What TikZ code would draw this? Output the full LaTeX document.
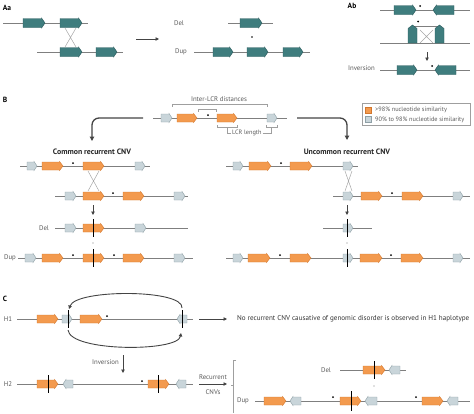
\documentclass[tikz,border=0pt]{standalone}
\usepackage{fontspec}
\setmainfont{PT Sans}
\usetikzlibrary{arrows.meta}
\definecolor{tealf}{HTML}{3F7D7E}
\definecolor{teald}{HTML}{2B5A5C}
\definecolor{orf}{HTML}{F39A4E}
\definecolor{ord}{HTML}{D2772E}
\definecolor{gyf}{HTML}{C9D5DA}
\definecolor{gyd}{HTML}{8FA0A6}
\definecolor{dnac}{HTML}{7F7F7F}
\definecolor{txt}{HTML}{5A5A5A}
\definecolor{arrc}{HTML}{444444}
\def\bh{4}\def\bt{3.5}
\newcommand\RB[4]{\path[#1] (#2,{#4-\bh}) -- ({#3-\bt},{#4-\bh}) -- ({#3-\bt},{#4-\bh-0.6}) -- (#3,#4) -- ({#3-\bt},{#4+\bh+0.6}) -- ({#3-\bt},{#4+\bh}) -- (#2,{#4+\bh}) -- cycle;}
\newcommand\LB[4]{\path[#1] (#3,{#4-\bh}) -- ({#2+\bt},{#4-\bh}) -- ({#2+\bt},{#4-\bh-0.6}) -- (#2,#4) -- ({#2+\bt},{#4+\bh+0.6}) -- ({#2+\bt},{#4+\bh}) -- (#3,{#4+\bh}) -- cycle;}
\newcommand\UB[5]{\path[#1] (#2,#4) -- (#2,{#5+\bt}) -- ({(#2+#3)/2},#5) -- (#3,{#5+\bt}) -- (#3,#4) -- cycle;}
\tikzset{
  tealb/.style={fill=tealf,draw=teald,line width=.4pt},
  orb/.style={fill=orf,draw=ord,line width=.4pt},
  gyb/.style={fill=gyf,draw=gyd,line width=.4pt},
  dna/.style={draw=dnac,line width=0.9pt},
  xl/.style={draw=gray!70,line width=.5pt},
  cutl/.style={draw=black,line width=.7pt},
  brk/.style={draw=gray!75,line width=.4pt},
  arr/.style={draw=arrc,line width=.9pt,-{Triangle[length=3.5pt,width=3.5pt]}},
  bigarr/.style={draw=arrc,line width=1.3pt,-{Triangle[length=4.5pt,width=4.5pt]}},
  lbl/.style={font=\fontsize{7.5}{8}\selectfont\bfseries,text=black,inner sep=0},
  sm/.style={font=\fontsize{6.8}{7.5}\selectfont,text=txt,inner sep=0},
  leg/.style={font=\fontsize{6.3}{7}\selectfont,text=txt,inner sep=0},
  hd/.style={font=\fontsize{7.8}{8.5}\selectfont\bfseries,text=black!85,inner sep=0},
  dotc/.style={fill=black},
}
\begin{document}
\begin{tikzpicture}[x=1pt,y=-1pt]
\useasboundingbox (0,0) rectangle (474,413);
% ---------- Aa
\node[lbl] (Aa) at (7,8) {Aa};
\def\bh{4.5}
\draw[dna] (3,23) -- (88,23);
\RB{tealb}{23}{45}{23}
\RB{tealb}{60}{82}{23}
\draw[dna] (37,52) -- (123,52);
\RB{tealb}{60}{82}{52}
\RB{tealb}{96}{117}{52}
\draw[xl] (65,28) -- (76,47) (76,28) -- (65,47);
\coordinate (a1) at (136,39); \coordinate (a2) at (159,39);
\draw[arr] (a1) -- (a2);
\node[sm] (delA) at (179,23) {Del};
\node[sm] (dupA) at (181,52) {Dup};
\draw[dna] (228,23) -- (273,23);
\RB{tealb}{240}{262}{23}
\fill[dotc] (252,37) circle (0.8);
\draw[dna] (194,52) -- (310,52);
\RB{tealb}{213}{233}{52}
\RB{tealb}{247}{268}{52}
\RB{tealb}{283}{303}{52}
% ---------- Ab
\node[lbl] (Ab) at (352,6) {Ab};
\draw[dna] (380,10) -- (470,10);
\RB{tealb}{394}{416}{10}
\fill[dotc] (420,6) circle (1);
\LB{tealb}{433}{454}{10}
\draw[dna] (380,43) -- (470,43);
\draw[dna] (412.5,26) -- (439.5,26);
\UB{tealb}{408}{417}{43}{25}
\UB{tealb}{435}{444}{43}{25}
\fill[dotc] (418,21.5) circle (1);
\draw[xl] (420,30) -- (433,43) (433,30) -- (420,43);
\coordinate (b1) at (427,52); \coordinate (b2) at (427,61);
\draw[arr] (b1) -- (b2);
\node[sm,anchor=east] (invA) at (375,68) {Inversion};
\draw[dna] (380,70) -- (470,70);
\RB{tealb}{397}{417}{70}
\fill[dotc] (432,66) circle (1);
\LB{tealb}{435}{456}{70}
% ---------- B
\def\bh{4}
\node[lbl] (B) at (5,99.5) {B};
\draw[dna] (153,118) -- (287,118);
\def\bt{3}\RB{gyb}{161}{172}{118}\def\bt{3.5}
\RB{orb}{177}{197}{118}
\fill[dotc] (208,115) circle (1);
\RB{orb}{217}{237}{118}
\def\bt{3}\RB{gyb}{267}{277}{118}\def\bt{3.5}
\draw[brk] (172,106.5) -- (172,104) -- (267,104) -- (267,106.5);
\draw[brk] (198,111.5) -- (198,109) -- (216,109) -- (216,111.5);
\node[sm,anchor=south] (ild) at (219,101.5) {Inter-LCR distances};
\draw[brk] (217,125) -- (217,127.5) -- (237,127.5) -- (237,125);
\draw[brk] (266,125) -- (266,127.5) -- (277,127.5) -- (277,125);
\node[leg,anchor=west] (lcrl) at (232,133) {LCR length};
\draw[brk] (227,127.5) |- ([xshift=-1pt]lcrl.west);
\draw[brk] ([xshift=1pt]lcrl.east) -| (271,127.5);
\coordinate (c1) at (143,118); \coordinate (c2) at (92,141);
\draw[bigarr,rounded corners=7] (c1) -| (c2);
\coordinate (c3) at (297,118); \coordinate (c4) at (347,140);
\draw[bigarr,rounded corners=7] (c3) -| (c4);
% legend
\draw[brk] (362,103) rectangle (470,125);
\draw[orb] (365,107) rectangle (371,113);
\node[leg,anchor=west] (l1) at (375,110) {>98\% nucleotide similarity};
\draw[gyb] (365,116) rectangle (371,122);
\node[leg,anchor=west] (l2) at (375,119.5) {90\% to 98\% nucleotide similarity};
\node[hd] (crc) at (92,152) {Common recurrent CNV};
\node[hd] (urc) at (347,152) {Uncommon recurrent CNV};
% left column
\draw[dna] (20,166) -- (150,166);
\def\bt{3}\RB{gyb}{27}{37}{166}\def\bt{3.5}
\RB{orb}{42}{63}{166}
\fill[dotc] (73,163) circle (1);
\RB{orb}{83}{104}{166}
\def\bt{3}\RB{gyb}{135}{145}{166}\def\bt{3.5}
\draw[xl] (88,171) -- (99,191) (99,171) -- (88,191);
\draw[dna] (55,196) -- (188,196);
\def\bt{3}\RB{gyb}{65}{76}{196}\def\bt{3.5}
\RB{orb}{83}{104}{196}
\fill[dotc] (113,193) circle (1);
\RB{orb}{123}{144}{196}
\def\bt{3}\RB{gyb}{174}{185}{196}\def\bt{3.5}
\coordinate (d1) at (93,205); \coordinate (d2) at (93,215);
\draw[arr] (d1) -- (d2);
\node[sm] (delL) at (44,228) {Del};
\draw[dna] (55,228) -- (188,228);
\def\bt{3}\RB{gyb}{65}{76}{228}\def\bt{3.5}
\RB{orb}{83}{104}{228}
\draw[cutl] (93,219) -- (93,237);
\def\bt{3}\RB{gyb}{135}{146}{228}\def\bt{3.5}
\fill[dnac] (93,243) circle (0.7);
\node[sm] (dupL) at (10,258) {Dup};
\draw[dna] (18,258) -- (193,258);
\def\bt{3}\RB{gyb}{25}{36}{258}\def\bt{3.5}
\RB{orb}{42}{63}{258}
\fill[dotc] (73,255) circle (1);
\RB{orb}{83}{104}{258}
\draw[cutl] (93,249) -- (93,267);
\fill[dotc] (114,255) circle (1);
\RB{orb}{123}{144}{258}
\def\bt{3}\RB{gyb}{174}{185}{258}\def\bt{3.5}
% right column
\draw[dna] (226,166) -- (358,166);
\def\bt{3}\RB{gyb}{233}{243}{166}\def\bt{3.5}
\RB{orb}{249}{271}{166}
\fill[dotc] (281,163) circle (1);
\RB{orb}{290}{312}{166}
\def\bt{3}\RB{gyb}{343}{353}{166}\def\bt{3.5}
\draw[xl] (345,171) -- (352,191) (352,171) -- (345,191);
\draw[dna] (333,196) -- (470,196);
\def\bt{3}\RB{gyb}{343}{353}{196}\def\bt{3.5}
\RB{orb}{361}{382}{196}
\fill[dotc] (392,193) circle (1);
\RB{orb}{402}{423}{196}
\def\bt{3}\RB{gyb}{453}{463}{196}\def\bt{3.5}
\coordinate (e1) at (347,205); \coordinate (e2) at (347,215);
\draw[arr] (e1) -- (e2);
\draw[dna] (323,228) -- (372,228);
\def\bt{3}\RB{gyb}{343}{353}{228}\def\bt{3.5}
\draw[cutl] (347,219) -- (347,237);
\fill[dnac] (347,243) circle (0.7);
\draw[dna] (226,258) -- (470,258);
\def\bt{3}\RB{gyb}{233}{243}{258}\def\bt{3.5}
\RB{orb}{248}{270}{258}
\fill[dotc] (280,255) circle (1);
\RB{orb}{290}{311}{258}
\def\bt{3}\RB{gyb}{343}{353}{258}\def\bt{3.5}
\draw[cutl] (347,249) -- (347,267);
\RB{orb}{360}{382}{258}
\fill[dotc] (391,255) circle (1);
\RB{orb}{401}{423}{258}
\def\bt{3}\RB{gyb}{453}{463}{258}\def\bt{3.5}
% ---------- C
\node[lbl] (C) at (5,299) {C};
\node[sm] (H1) at (8,319) {H1};
\draw[dna] (17,319) -- (193,319);
\RB{orb}{37}{58}{319}
\def\bt{3}\RB{gyb}{62}{72}{319}\def\bt{3.5}
\draw[cutl] (68,310) -- (68,328);
\RB{orb}{80}{102}{319}
\fill[dotc] (107,316) circle (1);
\def\bt{3}\LB{gyb}{177}{187}{319}\def\bt{3.5}
\draw[cutl] (182,310) -- (182,328);
\coordinate (f1) at (182,308); \coordinate (f2) at (69,309);
\draw[arr] (f1) .. controls (184,289) and (76,289) .. (f2);
\coordinate (f3) at (68,330); \coordinate (f4) at (181,333);
\draw[arr] (f3) .. controls (70,352) and (178,352) .. (f4);
\coordinate (g1) at (199,319);
\node[sm,anchor=west,text=black!80,font=\fontsize{7.1}{8}\selectfont] (nor) at (237,318.5) {No recurrent CNV causative of genomic disorder is observed in H1 haplotype};
\draw[arr] (g1) -- (227,319);
\coordinate (h1) at (123,355); \coordinate (h2) at (123,373);
\draw[arr] (h1) -- (h2);
\node[sm,anchor=east] (invC) at (119,362) {Inversion};
\node[sm] (H2) at (8,384) {H2};
\draw[dna] (17,384) -- (193,384);
\RB{orb}{37}{58}{384}
\draw[cutl] (48,375) -- (48,393);
\def\bt{3}\LB{gyb}{63}{73}{384}\def\bt{3.5}
\fill[dotc] (142,381) circle (1);
\RB{orb}{148}{169}{384}
\draw[cutl] (158,375) -- (158,393);
\def\bt{3}\LB{gyb}{176}{186}{384}\def\bt{3.5}
\coordinate (k1) at (199,384); \coordinate (k2) at (227,384);
\draw[arr] (k1) -- (k2);
\node[sm,anchor=south] (rec) at (213,380) {Recurrent};
\node[sm,anchor=north] (cnvs) at (213,389) {CNVs};
\draw[brk] (236,360) -- (233,360) -- (233,413);
\draw[brk] (233,385) -- (231,385);
\node[sm] (delC) at (326,370) {Del};
\draw[dna] (340,370) -- (406,370);
\RB{orb}{363}{385}{370}
\draw[cutl] (374,361) -- (374,379);
\def\bt{3}\LB{gyb}{389}{400}{370}\def\bt{3.5}
\fill[dnac] (374,386) circle (0.7);
\node[sm] (dupC) at (243,401) {Dup};
\draw[dna] (255,401) -- (470,401);
\RB{orb}{264}{286}{401}
\def\bt{3}\LB{gyb}{290}{301}{401}\def\bt{3.5}
\fill[dotc] (333,397) circle (1);
\RB{orb}{340}{361}{401}
\draw[cutl] (351,391) -- (351,411);
\def\bt{3}\LB{gyb}{365}{377}{401}\def\bt{3.5}
\fill[dotc] (416,397) circle (1);
\RB{orb}{422}{443}{401}
\def\bt{3}\LB{gyb}{447}{458}{401}\def\bt{3.5}
\end{tikzpicture}
\end{document}
